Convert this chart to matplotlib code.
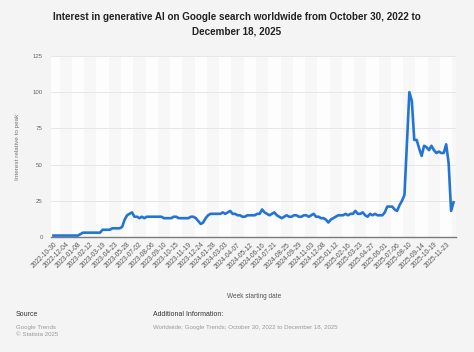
import matplotlib
matplotlib.use("Agg")
import matplotlib.pyplot as plt
import pandas as pd

# ---------------- Data ----------------
start_week = "2022-10-30"
interest = (
    [1] * 11 + [2] + [3] * 8 + [5] * 4 + [6] * 4 +
    [7, 12, 15, 16, 17, 14, 14, 13, 14, 13] +
    [14] * 7 + [13, 13, 13, 13, 14, 14] + [13] * 5 +
    [14, 14, 13, 11, 9, 10, 13, 15, 16, 16, 16, 16, 16, 17, 16, 17, 18, 16, 16,
     15, 15, 14, 14, 15, 15, 15, 15, 16, 16, 19, 17, 16, 15, 16, 17, 15, 14, 13,
     14, 15, 14, 14, 15, 15, 14, 14, 15, 15, 14, 15, 16, 14, 14, 13, 13, 12, 10,
     12, 13, 14, 15, 15, 15, 16, 15, 16, 16, 18, 16, 16, 17, 15, 14, 16, 15, 16,
     15, 15, 15, 17, 21, 21, 21, 19, 18, 22, 25, 29, 64, 100, 94, 67, 67, 61, 56,
     63, 62, 60, 63, 60, 58, 59, 58, 58, 64, 51, 18, 24]
)
weeks = pd.date_range(start_week, periods=len(interest), freq="7D")
tick_every = 5
tick_labels = [d.strftime("%Y-%m-%d") for d in weeks[::tick_every]]
y_ticks = [0, 25, 50, 75, 100, 125]

title = ("Interest in generative AI on Google search worldwide from October 30, 2022 to\n"
         "December 18, 2025")

# ---------------- Figure ----------------
plt.rcParams["font.family"] = ["Liberation Sans", "DejaVu Sans"]
fig = plt.figure(figsize=(4.74, 3.52), dpi=100, facecolor="#f4f4f4")
ax = fig.add_axes([51 / 474, 1 - 237 / 352, 405 / 474, 181 / 352])
ax.set_facecolor("#fdfdfd")

x = list(range(len(interest)))
ax.set_xlim(-1, len(interest))
ax.set_ylim(0, 125)

# faint alternating column bands
for k in range(0, len(interest), tick_every * 2):
    ax.axvspan(k + tick_every / 2, k + tick_every * 1.5, color="#f7f7f7", lw=0, zorder=0)

ax.set_yticks(y_ticks)
ax.yaxis.grid(True, color="#e6e6e6", lw=0.7)
ax.set_axisbelow(True)

ax.plot(x, interest, color="#2474d6", lw=1.9, solid_joinstyle="round", zorder=3)

ax.set_xticks(x[::tick_every])
ax.set_xticklabels(tick_labels, rotation=45, ha="right", rotation_mode="anchor",
                   fontsize=4.8, color="#555555")
ax.tick_params(axis="x", length=0, pad=3)
ax.tick_params(axis="y", length=0, pad=6, labelsize=4.4, labelcolor="#666666")
for s in ["top", "right", "left"]:
    ax.spines[s].set_visible(False)
ax.spines["bottom"].set_color("#7a7a7a")
ax.spines["bottom"].set_linewidth(1.0)

ax.set_ylabel("Interest relative to peak", fontsize=4.6, color="#777777", labelpad=9)

fig.text(0.5, 1 - 24 / 352, title, ha="center", va="center", fontsize=7.1,
         fontweight="bold", color="#222222", linespacing=1.55)
fig.text(254 / 474, 1 - 297 / 352, "Week starting date", ha="center", va="center",
         fontsize=4.7, color="#555555")

fig.text(16 / 474, 1 - 315 / 352, "Source", fontsize=5, color="#333333", va="center")
fig.text(16 / 474, 1 - 325 / 352, "Google Trends\n\u00a9 Statista 2025", fontsize=4.4,
         color="#999999", va="top", linespacing=1.5)
fig.text(153 / 474, 1 - 315 / 352, "Additional Information:", fontsize=5,
         color="#333333", va="center")
fig.text(153 / 474, 1 - 325 / 352,
         "Worldwide; Google Trends; October 30, 2022 to December 18, 2025",
         fontsize=4.4, color="#999999", va="top")

fig.savefig("out.png", dpi=100, facecolor=fig.get_facecolor())
